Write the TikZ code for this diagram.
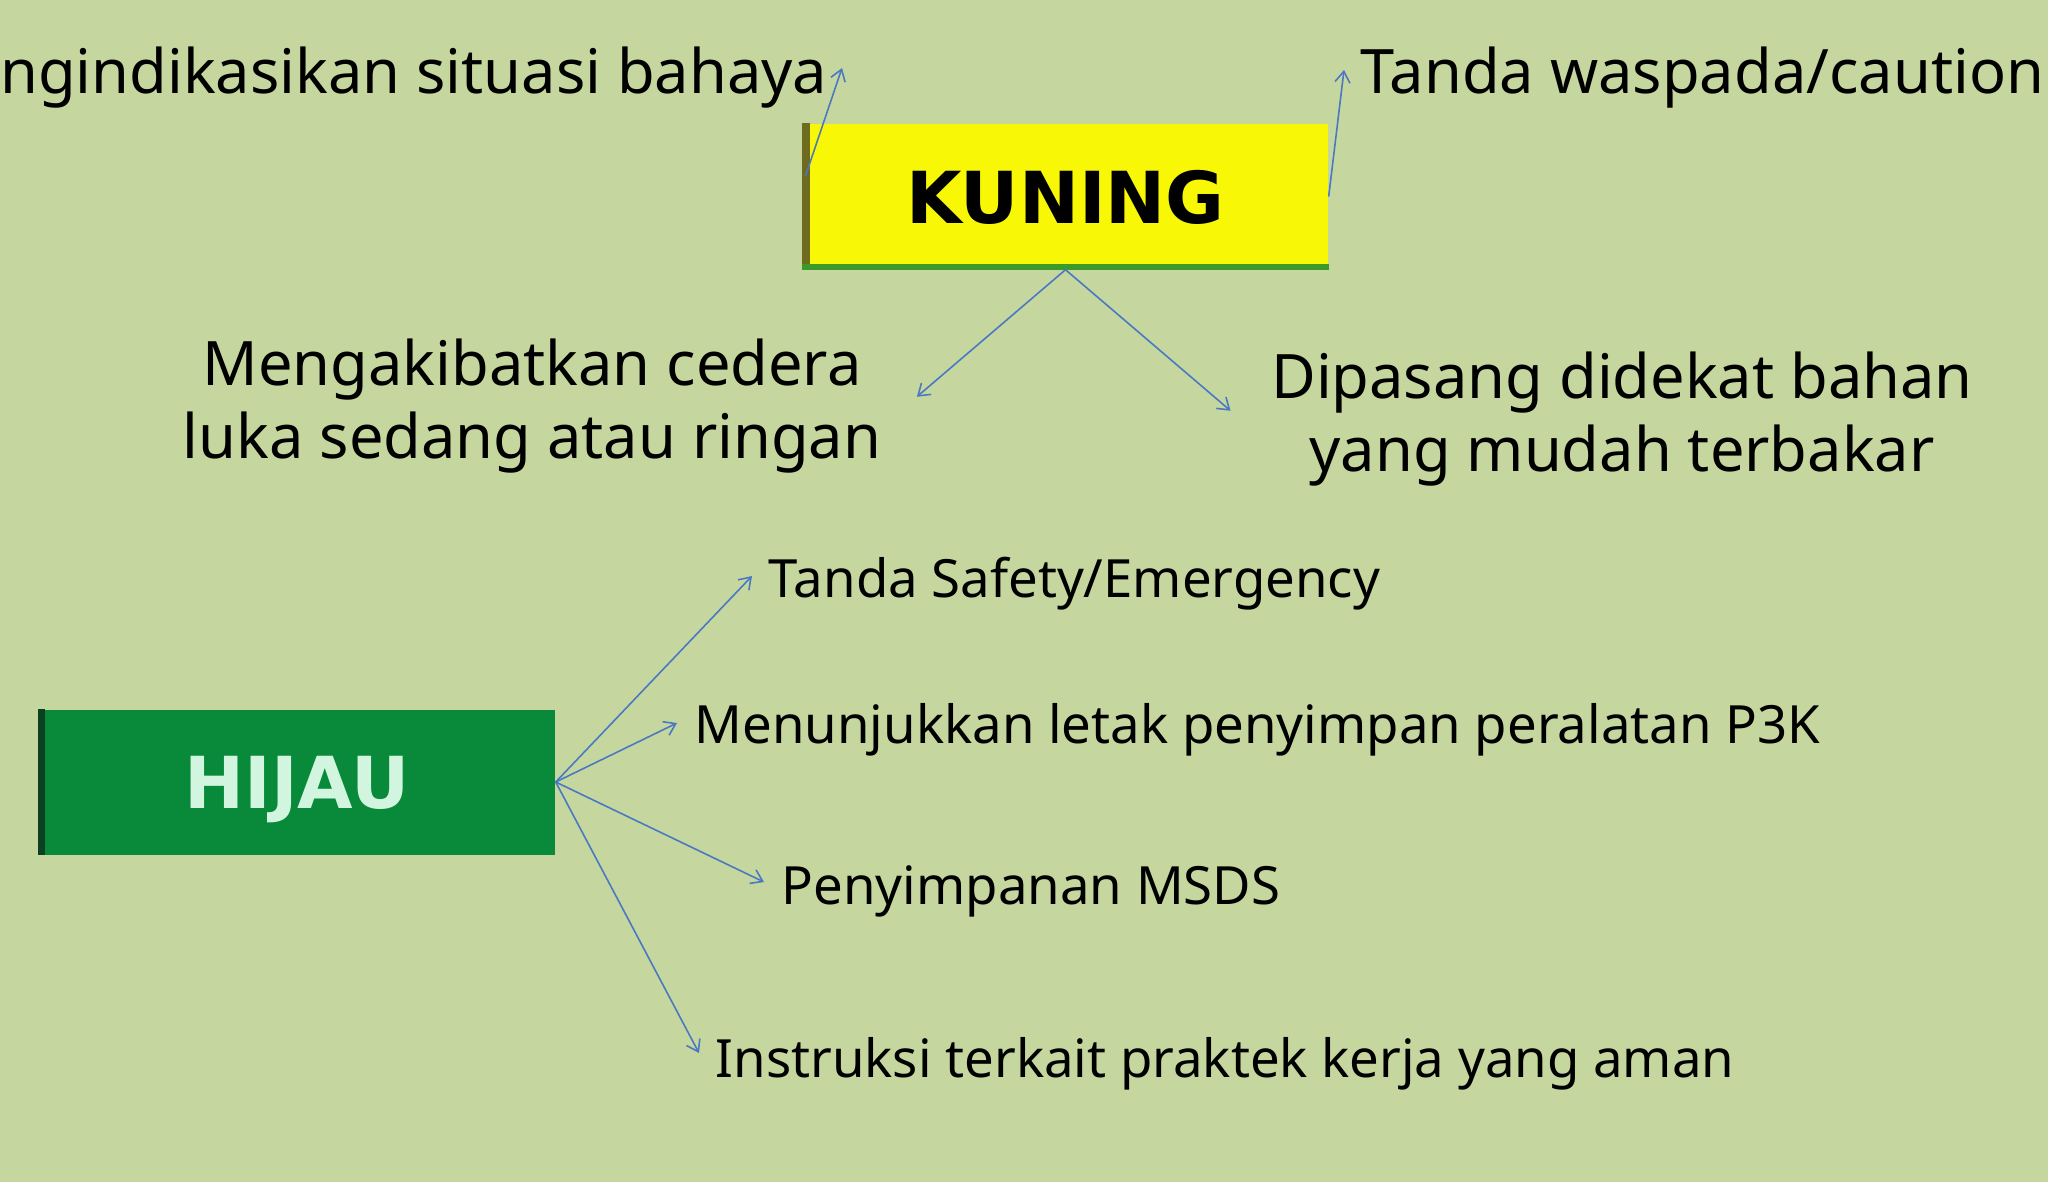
\documentclass[tikz,border=0pt]{standalone}
\usepackage{fontspec}
\setmainfont{Noto Sans}
\newfontfamily\boxfont{DejaVu Sans}
\usetikzlibrary{shapes, arrows, arrows.meta, calc, positioning}

\definecolor{bgcol}{HTML}{C5D79E}
\definecolor{kuningfill}{HTML}{F8F806}
\definecolor{kuningstripe}{HTML}{6E6A1E}
\definecolor{kuningline}{HTML}{3C9A2A}
\definecolor{hijaufill}{HTML}{088A3A}
\definecolor{hijaustripe}{HTML}{0B4020}
\definecolor{hijautext}{HTML}{D2F5DF}
\definecolor{arrowblue}{HTML}{4A78C2}

\begin{document}
\begin{tikzpicture}[>={Straight Barb[length=1.1mm, width=1.5mm]}]
	\tikzstyle{bigtext} = [inner sep=0pt, font=\fontsize{17.45}{20.7}\selectfont, align=center]
	\tikzstyle{smalltext} = [inner sep=0pt, anchor=base west, font=\fontsize{15}{18}\selectfont]
	\tikzstyle{colorbox} = [minimum height=1.45cm, inner sep=0pt, text depth=0pt, font=\boxfont\bfseries\fontsize{20.4}{24}\selectfont]
	\tikzstyle{arrowline} = [->, draw=arrowblue, line width=0.45pt]

	\fill[bgcol] (0,0) rectangle (20.48,-11.82);
	\useasboundingbox (0,0) rectangle (20.48,-11.82);

	\node[colorbox, fill=kuningfill, minimum width=5.25cm] (kuning) at (10.655,-1.965) {KUNING};
	\fill[kuningstripe] (kuning.south west) rectangle ($(kuning.north west)+(0.08,0)$);
	\fill[kuningline] (kuning.south west) rectangle ($(kuning.south east)+(0,0.06)$);

	\node[colorbox, fill=hijaufill, text=hijautext, minimum width=5.16cm] (hijau) at (2.97,-7.82) {HIJAU};
	\fill[hijaustripe] (hijau.south west) rectangle ($(hijau.north west)+(0.07,0)$);

	\node[bigtext, anchor=base east] (bahaya) at (8.28,-0.93) {ngindikasikan situasi bahaya};
	\node[bigtext, anchor=base west] (caution) at (13.6,-0.93) {Tanda waspada/caution};
	\node[bigtext, anchor=north] (cedera) at (5.32,-3.38) {Mengakibatkan cedera\\luka sedang atau ringan};
	\node[bigtext, anchor=north] (bahan) at (16.22,-3.51) {Dipasang didekat bahan\\yang mudah terbakar};

	\node[smalltext] (safety) at (7.68,-5.97) {Tanda Safety/Emergency};
	\node[smalltext] (p3k) at (6.94,-7.43) {Menunjukkan letak penyimpan peralatan P3K};
	\node[smalltext] (msds) at (7.81,-9.04) {Penyimpanan MSDS};
	\node[smalltext] (instruksi) at (7.15,-10.77) {Instruksi terkait praktek kerja yang aman};

	\draw[arrowline] ($(kuning.west)+(0.03,0.2)$) -- ($(bahaya.base east)+(0.14,0.25)$);
	\draw[arrowline] (kuning.east) -- ($(caution.base west)+(-0.16,0.23)$);
	\draw[arrowline] (kuning.south) -- ($(cedera.east)+(0.35,0.09)$);
	\draw[arrowline] (kuning.south) -- ($(bahan.west)+(-0.40,0.08)$);

	\draw[arrowline] (hijau.east) -- ($(safety.base west)+(-0.16,0.21)$);
	\draw[arrowline] (hijau.east) -- ($(p3k.base west)+(-0.17,0.20)$);
	\draw[arrowline] (hijau.east) -- ($(msds.base west)+(-0.17,0.22)$);
	\draw[arrowline] (hijau.east) -- ($(instruksi.base west)+(-0.16,0.24)$);
\end{tikzpicture}
\end{document}
